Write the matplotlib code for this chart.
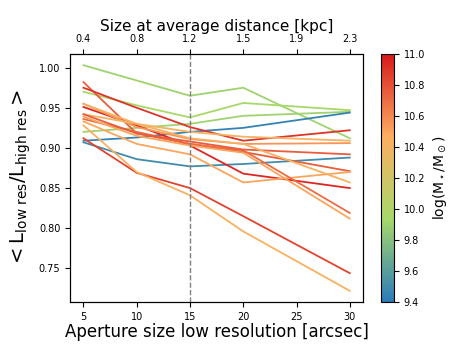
import numpy as np
import matplotlib
matplotlib.use('Agg')
import matplotlib.pyplot as plt
from matplotlib.colors import LinearSegmentedColormap, Normalize

# aperture sizes (arcsec)
apertures = [5, 10, 15, 20, 30]

# stellar mass of each galaxy, log(M*/Msun)
masses = [9.9, 9.95, 9.9, 9.45, 9.5,
          10.75, 10.9, 10.95, 10.85, 10.45,
          10.55, 10.4, 10.5, 10.7, 10.5, 10.75, 10.45]

# ratio <L_low / L_high> at each aperture
ratios = [
    [1.003, 0.984, 0.965, 0.975, 0.912],
    [0.970, 0.953, 0.938, 0.956, 0.947],
    [0.920, 0.925, 0.930, 0.940, 0.945],
    [0.909, 0.913, 0.920, 0.925, 0.944],
    [0.907, 0.886, 0.877, 0.880, 0.888],
    [0.982, 0.918, 0.905, 0.895, 0.871],
    [0.975, 0.950, 0.926, 0.909, 0.922],
    [0.951, 0.928, 0.903, 0.868, 0.850],
    [0.912, 0.869, 0.850, 0.815, 0.744],
    [0.928, 0.870, 0.841, 0.796, 0.722],
    [0.955, 0.926, 0.911, 0.905, 0.906],
    [0.942, 0.930, 0.920, 0.914, 0.909],
    [0.933, 0.905, 0.892, 0.857, 0.870],
    [0.936, 0.920, 0.905, 0.897, 0.819],
    [0.939, 0.915, 0.903, 0.894, 0.812],
    [0.942, 0.918, 0.908, 0.898, 0.892],
    [0.955, 0.930, 0.912, 0.905, 0.857],
]

# top axis labels: aperture size at average distance (kpc)
top_ticks = [5, 10, 15, 20, 25, 30]
top_labels = ['0.4', '0.8', '1.2', '1.5', '1.9', '2.3']

cmap = LinearSegmentedColormap.from_list(
    'mass', ['#2b7bba', '#a6d96a', '#fdae61', '#d7191c'])
norm = Normalize(vmin=9.4, vmax=11.0)

fig = plt.figure(figsize=(4.74, 3.55), dpi=100)
ax = fig.add_axes([0.148, 0.149, 0.618, 0.699])
cax = fig.add_axes([0.804, 0.149, 0.027, 0.699])

for m, r in zip(masses, ratios):
    ax.plot(apertures, r, color=cmap(norm(m)), lw=1.3)

ax.axvline(15, color='gray', ls='--', lw=1)

ax.set_xticks([5, 10, 15, 20, 25, 30])
ax.set_yticks([0.75, 0.80, 0.85, 0.90, 0.95, 1.00])
ax.tick_params(labelsize=7)
ax.set_xlabel('Aperture size low resolution [arcsec]', fontsize=12, labelpad=1)
ax.set_ylabel(r'$<\mathrm{L_{low\ res}/L_{high\ res}}>$', fontsize=14, labelpad=4)

ax2 = ax.twiny()
ax2.set_xlim(ax.get_xlim())
ax2.set_xticks(top_ticks)
ax2.set_xticklabels(top_labels)
ax2.tick_params(labelsize=7)
ax2.set_xlabel('Size at average distance [kpc]', fontsize=11, labelpad=2)

sm = plt.cm.ScalarMappable(cmap=cmap, norm=norm)
cb = fig.colorbar(sm, cax=cax)
cb.set_ticks([9.4, 9.6, 9.8, 10.0, 10.2, 10.4, 10.6, 10.8, 11.0])
cb.ax.tick_params(labelsize=7)
cb.set_label(r'$\mathrm{log(M_\star/M_\odot)}$', fontsize=10)

fig.savefig('out.png', dpi=100)
